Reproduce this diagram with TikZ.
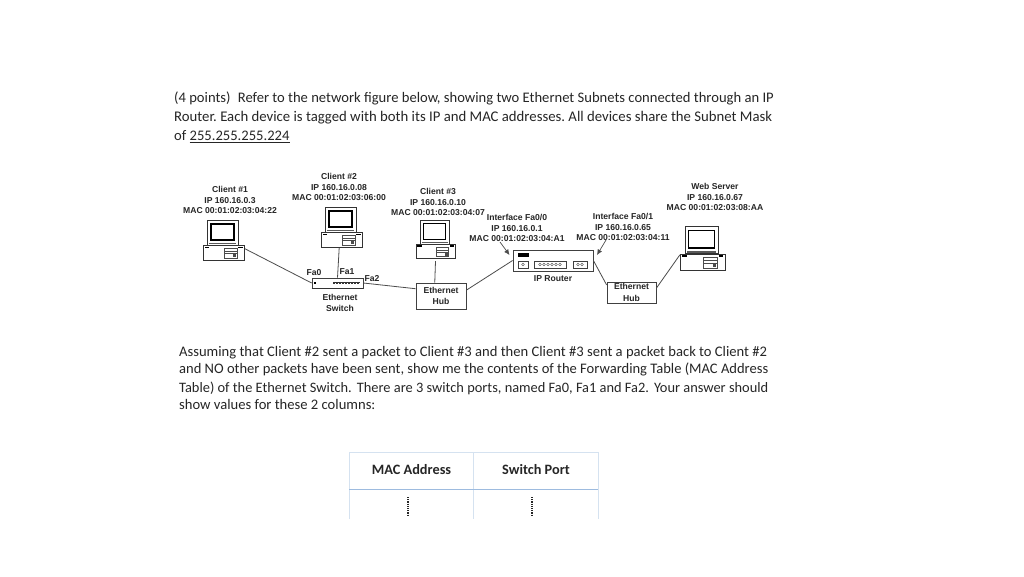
\documentclass[tikz,border=0pt]{standalone}
\usepackage{fontspec}
\setmainfont{Carlito}
\newfontfamily\labelfont{Liberation Sans}[BoldFont={Liberation Sans Bold}]
\usetikzlibrary{arrows.meta}
\definecolor{ink}{HTML}{262626}
\definecolor{gridblue}{HTML}{D5E2F0}
\definecolor{headblue}{HTML}{9DBBDF}
\tikzset{
  x=1pt,y=-1pt,
  para/.style={anchor=base west,inner sep=0,text=ink,font=\frenchspacing\fontsize{14.6}{16}\selectfont},
  tag/.style={inner sep=0,align=center,text=ink,font=\labelfont\bfseries\fontsize{8.6}{10.4}\selectfont},
  hubbox/.style={draw=black!75,line width=.8pt,fill=white,inner sep=0,align=center,text=ink,font=\labelfont\bfseries\fontsize{8.6}{11.5}\selectfont},
  slot/.style={draw=black!75,line width=.5pt,inner sep=0,fill=white},
  hostbox/.style={inner sep=0,draw=none},
  wire/.style={draw=black!70,line width=.8pt},
  pointer/.style={draw=black!70,line width=.7pt,-{Latex[length=5.5pt,width=5pt]}},
  headtext/.style={inner sep=0,text=ink,font=\bfseries\fontsize{14.3}{16}\selectfont},
  computer/.pic={
    \draw[black!80,line width=.7pt,fill=white] (4.5,0) rectangle (35,25);
    \draw[black,line width=1.2pt,fill=white] (8,4) rectangle (31,20);
    \fill[black!65] (6,22.5) rectangle (33,24.4);
    \draw[black!80,line width=.7pt,fill=white] (0,25.5) rectangle (41,40);
    \fill[black] (1.5,26.5) rectangle (6,28);
    \fill[black] (35,26.5) rectangle (39.5,28);
    \draw[black!70,line width=.5pt] (21,28.5) rectangle (34,38);
    \draw[black!70,line width=.5pt] (21,31) -- (34,31) (21,33.5) -- (34,33.5);
    \fill[black!70] (30,34) rectangle (33,37.4);
  }
}
\begin{document}
\begin{tikzpicture}
\useasboundingbox (0,0) rectangle (1024,576);
\fill[white] (0,0) rectangle (1024,576);
% question text
\node[para] (q1) at (174,102.5) {(4 points)\enspace Refer to the network figure below, showing two Ethernet Subnets connected through an IP};
\node[para,font=\frenchspacing\fontsize{14.75}{16}\selectfont] (q2) at (174,121) {Router. Each device is tagged with both its IP and MAC addresses. All devices share the Subnet Mask};
\node[para] (q3) at (174,140.5) {of \underline{255.255.255.224}};
\node[para] (p1) at (179,356) {Assuming that Client \#2 sent a packet to Client \#3 and then Client \#3 sent a packet back to Client \#2};
\node[para,font=\frenchspacing\fontsize{14.55}{16}\selectfont] (p2) at (179,373.5) {and NO other packets have been sent, show me the contents of the Forwarding Table (MAC Address};
\node[para,font=\frenchspacing\fontsize{14.4}{16}\selectfont] (p3) at (179,392) {Table) of the Ethernet Switch.\hspace{5pt}There are 3 switch ports, named Fa0, Fa1 and Fa2.\hspace{5pt}Your answer should};
\node[para] (p4) at (179,409.5) {show values for these 2 columns:};
% hosts
\node[hostbox,minimum width=41,minimum height=40] (c1) at (223.5,240) {};
\node[hostbox,minimum width=41,minimum height=40] (c2) at (341,227) {};
\node[hostbox,minimum width=39,minimum height=41] (c3) at (435.5,240.5) {};
\node[hostbox,minimum width=45,minimum height=44] (srv) at (702.5,248) {};
% network boxes
\node[hostbox,draw=black!75,line width=.7pt,fill=white,minimum width=51,minimum height=10] (sw) at (337.5,283) {};
\node[hubbox,minimum width=50,minimum height=26] (hub1) at (441,296) {Ethernet\\Hub};
\node[hubbox,minimum width=49,minimum height=21] (hub2) at (631.5,292.5) {Ethernet\\Hub};
\node[hostbox,draw=black!75,line width=.8pt,fill=white,minimum width=80,minimum height=21] (rt) at (553,260.5) {};
% connectors
\draw[wire] (c1.-22) -- (sw.west);
\draw[wire] (c2.-95) -- (sw.north);
\draw[wire] (sw.east) -- (hub1.164);
\draw[wire] (c3.south) -- (hub1.115);
\draw[wire] (hub1.13) -- (rt.west);
\draw[wire] (rt.east) -- (hub2.163);
\draw[wire] (hub2.10) -- (srv.197);
% computer drawings
\pic at (203,220) {computer};
\pic at (321,207) {computer};
\pic[scale=.96] at (416,220) {computer};
\pic[scale=1.1] at (680,226) {computer};
% switch details
\draw[black!80,line width=1.1pt] (sw.south west) -- (sw.south east);
\node[fill=black,inner sep=0,minimum size=2.6] (swled) at (315,283) {};
\fill[black!80] (333,281.8) rectangle (360,284.4);
\foreach \i in {0,...,8}{\fill[white] (335+3*\i,282.6) rectangle (336+3*\i,283.6);}
% router details
\node[fill=black,inner sep=0,minimum width=11,minimum height=4.5] (rled) at (523.5,255) {};
\node[slot,minimum width=10,minimum height=7] (r1) at (523,264.5) {};
\node[slot,minimum width=32,minimum height=7] (r2) at (550,264.5) {};
\node[slot,minimum width=14,minimum height=7] (r3) at (580,264.5) {};
\draw[black!75,line width=.45pt] (523,264.5) circle (1.4);
\foreach \i in {0,...,5}{\draw[black!75,line width=.45pt] (540+4*\i,264.5) circle (1.4);}
\foreach \i in {0,1}{\draw[black!75,line width=.45pt] (578+4*\i,264.5) circle (1.4);}
% labels
\node[tag] (l1) at (230,200) {Client \#1\\IP 160.16.0.3\\MAC 00:01:02:03:04:22};
\node[tag] (l2) at (339,187) {Client \#2\\IP 160.16.0.08\\MAC 00:01:02:03:06:00};
\node[tag] (l3) at (438,202) {Client \#3\\IP 160.16.0.10\\MAC 00:01:02:03:04:07};
\node[tag] (l4) at (517,228) {Interface Fa0/0\\IP 160.16.0.1\\MAC 00:01:02:03:04:A1};
\node[tag] (l5) at (623,227) {Interface Fa0/1\\IP 160.16.0.65\\MAC 00:01:02:03:04:11};
\node[tag] (l6) at (715,197) {Web Server\\IP 160.16.0.67\\MAC 00:01:02:03:08:AA};
\node[tag] (l7) at (553,279) {IP Router};
\node[tag,font=\labelfont\bfseries\fontsize{8.6}{11}\selectfont] (l8) at (340,302.5) {Ethernet\\Switch};
\node[tag] (f0) at (314,273) {Fa0};
\node[tag] (f1) at (347,272) {Fa1};
\node[tag] (f2) at (372,279) {Fa2};
% pointers
\coordinate (a0) at (500,242);
\coordinate (b0) at (509.5,255);
\coordinate (a1) at (606,240);
\coordinate (b1) at (597,255);
\draw[pointer] (a0) -- (b0);
\draw[pointer] (a1) -- (b1);
% table
\coordinate (t1) at (349,452);
\coordinate (t2) at (598,452);
\coordinate (t3) at (349,519);
\coordinate (t4) at (598,519);
\coordinate (tm) at (473.5,452);
\coordinate (tn) at (473.5,519);
\coordinate (hl) at (349,489.5);
\coordinate (hr) at (598,489.5);
\draw[gridblue,line width=.8pt] (t3) -- (t1) -- (t2) -- (t4) (tm) -- (tn);
\draw[headblue,line width=1.7pt] (hl) -- (hr);
\node[headtext] (h1) at (411.5,470) {MAC Address};
\node[headtext] (h2) at (536,470) {Switch Port};
\draw[ink,line width=1.2pt,dash pattern=on 1.2pt off 1pt] (408,497) -- (408,516);
\draw[ink,line width=1.2pt,dash pattern=on 1.2pt off 1pt] (532,497) -- (532,516);
\end{tikzpicture}
\end{document}
